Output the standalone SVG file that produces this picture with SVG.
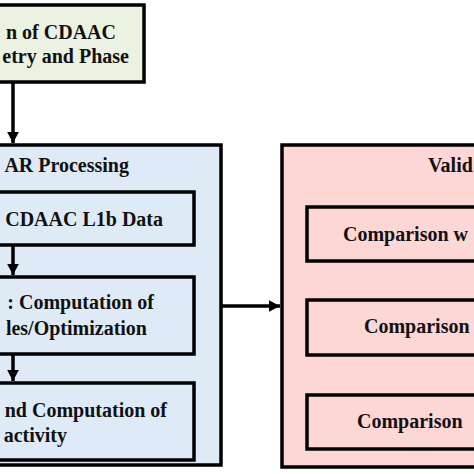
<svg xmlns="http://www.w3.org/2000/svg" width="474" height="474" viewBox="0 0 474 474">
<defs>
<style>
.t{font-family:"Liberation Serif","Times New Roman",serif;font-weight:bold;font-size:20px;fill:#111}
.box{stroke:#000;stroke-width:3.5}
.ln{stroke:#000;stroke-width:3.5;fill:none}
</style>
<marker id="ah" markerWidth="4" markerHeight="4" refX="3.2" refY="2" orient="auto" markerUnits="strokeWidth">
<path d="M0,0.3 L3.2,2 L0,3.7 Z" fill="#000"/>
</marker>
</defs>
<rect width="474" height="474" fill="#fff"/>
<g id="geometry">
<rect class="box" x="-20" y="5" width="164" height="77" fill="#ecf2e2"/>
<text class="t" x="116" y="39" text-anchor="end">n of CDAAC</text>
<text class="t" x="129" y="63" text-anchor="end">etry and Phase</text>
</g>
<g id="processing">
<rect class="box" x="-20" y="145" width="241" height="320" fill="#deebf7"/>
<text class="t" x="129" y="172" text-anchor="end">AR Processing</text>
</g>
<g id="l1b">
<rect class="box" x="-20" y="192" width="214" height="53" fill="#deebf7"/>
<text class="t" x="163" y="226" text-anchor="end">CDAAC L1b Data</text>
</g>
<g id="optimization">
<rect class="box" x="-20" y="277" width="214" height="77" fill="#deebf7"/>
<text class="t" x="154" y="309" text-anchor="end">: Computation of</text>
<text class="t" x="147" y="335" text-anchor="end">les/Optimization</text>
</g>
<g id="refractivity">
<rect class="box" x="-20" y="383" width="214" height="77" fill="#deebf7"/>
<text class="t" x="167" y="417" text-anchor="end">nd Computation of</text>
<text class="t" x="67" y="442" text-anchor="end">activity</text>
</g>
<g id="validation">
<rect class="box" x="282" y="145" width="220" height="322" fill="#fdd6d6"/>
<text class="t" x="428" y="172">Valid</text>
</g>
<g id="comp1">
<rect class="box" x="307" y="207" width="200" height="54" fill="#fdd6d6"/>
<text class="t" x="343" y="241">Comparison w</text>
</g>
<g id="comp2">
<rect class="box" x="307" y="300" width="200" height="55" fill="#fdd6d6"/>
<text class="t" x="364" y="333">Comparison</text>
</g>
<g id="comp3">
<rect class="box" x="307" y="395" width="200" height="54" fill="#fdd6d6"/>
<text class="t" x="357" y="428">Comparison</text>
</g>
<g id="connectors">
<line class="ln" x1="13" y1="82" x2="13" y2="143" marker-end="url(#ah)"/>
<line class="ln" x1="13" y1="245" x2="13" y2="275" marker-end="url(#ah)"/>
<line class="ln" x1="13" y1="354" x2="13" y2="381" marker-end="url(#ah)"/>
<line class="ln" x1="221" y1="306" x2="280" y2="306" marker-end="url(#ah)"/>
</g>
</svg>
